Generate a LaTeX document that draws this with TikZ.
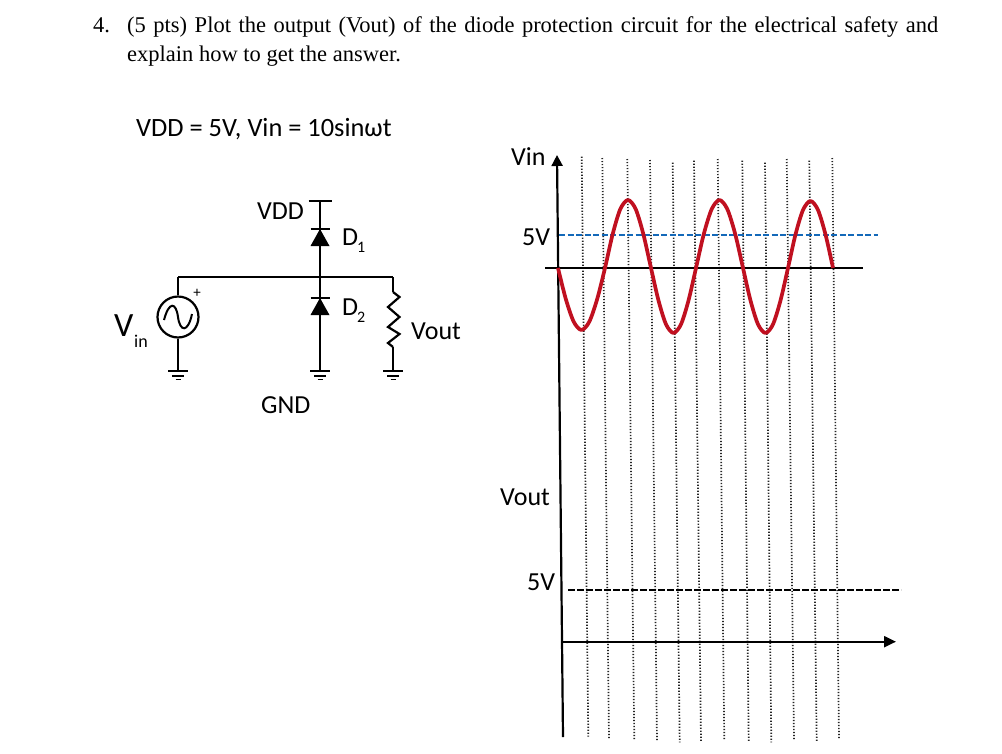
\documentclass[tikz,border=0pt]{standalone}
\usepackage{fontspec}
\setmainfont{Liberation Serif}
\newfontfamily\calfont{Carlito}
\usetikzlibrary{arrows.meta}
\tikzset{
 x=1pt,y=-1pt,
 lab/.style={inner sep=0pt,font=\calfont\fontsize{26}{26}\selectfont,anchor=base west},
 prob/.style={inner sep=0pt,font=\fontsize{22.5}{24}\selectfont,anchor=base west},
 wire/.style={line width=2.2pt,black},
 gridline/.style={line width=1.7pt,black!85,dash pattern=on 1.2pt off 1.8pt},
 axisline/.style={line width=2.2pt,black},
 blue5/.style={line width=2pt,color={rgb,255:red,20;green,105;blue,185},dash pattern=on 6pt off 2.5pt},
 black5/.style={line width=2.6pt,black,dash pattern=on 6.5pt off 2.5pt},
 sine/.style={line width=3.7pt,color={rgb,255:red,192;green,16;blue,32},line join=round},
}
\newcommand{\gnd}[1]{%
 \draw[wire] ([xshift=-10pt]#1) -- ([xshift=10pt]#1);
 \draw[line width=1.7pt] ([xshift=-6pt,yshift=-5pt]#1) -- ([xshift=6pt,yshift=-5pt]#1);
 \draw[line width=1.7pt] ([xshift=-2.5pt,yshift=-8.5pt]#1) -- ([xshift=2.5pt,yshift=-8.5pt]#1);
}
\newcommand{\diode}[1]{%
 \fill ([yshift=0pt]#1) -- ([xshift=-9.5pt,yshift=-17pt]#1) -- ([xshift=9.5pt,yshift=-17pt]#1) -- cycle;
 \draw[wire] ([xshift=-9.5pt]#1) -- ([xshift=9.5pt]#1);
}
\begin{document}
\begin{tikzpicture}
\useasboundingbox[fill=white] (0,0) rectangle (1002,753);
% problem text
\node[prob] (num) at (93,32) {4.};
\node[prob] (l1) at (127,32) {\makebox[811pt][s]{(5 pts) Plot the output (Vout) of the diode protection circuit for the electrical safety and}};
\node[prob] (l2) at (127,61) {explain how to get the answer.};
\node[lab,font=\calfont\fontsize{26.4}{26}\selectfont] (given) at (136,136) {VDD = 5V, Vin = 10sinωt};
% circuit points
\coordinate (vddR) at (320,201);
\coordinate (d1) at (320,229);
\coordinate (j) at (320,277);
\coordinate (jl) at (178,277);
\coordinate (jr) at (393,277);
\coordinate (d2) at (320,298);
\coordinate (g1) at (178,371);
\coordinate (g2) at (320,371);
\coordinate (g3) at (393,371);
\coordinate (rtop) at (393,292);
\coordinate (rbot) at (393,347);
\node[circle,draw,line width=2.2pt,minimum size=41pt,inner sep=0pt] (src) at (178,317) {};
\draw[wire] ([xshift=-11.5pt]vddR) -- ([xshift=11.5pt]vddR);
\draw[wire] (vddR) -- (j);
\draw[wire] (j) -- (g2);
\draw[wire] (jl) -- (jr);
\draw[wire] (jl) -- (src.north);
\draw[wire] (src.south) -- (g1);
\draw[wire] (jr) -- (rtop);
\draw[wire,line join=miter] (rtop) -- (399.5,297) -- (388,307) -- (399.5,317) -- (388,327) -- (399.5,334) -- (388,343) -- (rbot);
\draw[wire] (rbot) -- (g3);
\gnd{g1}\gnd{g2}\gnd{g3}
\diode{d1}\diode{d2}
\draw[line width=2pt] (164,320) .. controls (169,301) and (176,302) .. (178,317) .. controls (180,332) and (188,333) .. (192,314);
\node[inner sep=0pt,font=\calfont\fontsize{15}{15}\selectfont] (plus) at (197,293) {+};
\node[lab] (vv) at (114,336) {\fontsize{34}{34}\selectfont V};
\node[lab] (vi) at (134,347) {\fontsize{18}{18}\selectfont in};
\node[lab] (vddl) at (257,219) {VDD};
\node[lab] (dd1) at (342,245) {D};
\node[lab] (s1) at (357,252) {\fontsize{16}{16}\selectfont 1};
\node[lab] (dd2) at (342,315) {D};
\node[lab] (s2) at (357,322) {\fontsize{16}{16}\selectfont 2};
\node[lab] (vo) at (411,339) {Vout};
\node[lab] (gl) at (261,413) {GND};
% graph: dotted guide lines
\foreach \a/\b/\c/\d in {581.7/156.7/588.3/736.7,602.3/158/609/739,627.3/159/634.3/740,650/160/657/740.7,672.7/162.7/679.7/742.3,694/160.7/701/741.3,717.7/159/724.3/740.7,742.3/160.7/748.7/741.3,765/162.7/771.3/742.3,786.7/159/794/740,809.3/160.7/816.7/741.3,832.3/158/839/739}
 \draw[gridline] (\a,\b) -- (\c,\d);
\coordinate (ytop) at (557,155);
\coordinate (ybot) at (563,737);
\draw[axisline,-{Triangle[length=11pt,width=11pt]}] (ybot) -- (ytop);
\coordinate (x1a) at (545,268);
\coordinate (x1b) at (863,268);
\draw[axisline] (x1a) -- (x1b);
\coordinate (b1) at (559,235);
\coordinate (b2) at (878,235);
\draw[blue5] (b1) -- (b2);
\draw[sine] plot[smooth,tension=0.5] coordinates {(558,268) (565.8,299) (573.7,321.7) (581.5,330) (589.3,321.7) (597.2,299) (605,268) (612.7,234) (620.3,209.1) (628,200) (635.7,209.1) (643.3,234) (651,268) (658.5,300.5) (666,324.3) (673.5,333) (681,324.3) (688.5,300.5) (696,268) (703.8,234) (711.7,209.1) (719.5,200) (727.3,209.1) (735.2,234) (743,268) (750.5,300.5) (758,324.3) (765.5,333) (773,324.3) (780.5,300.5) (788,268) (795.5,234.5) (803,210) (810.5,201) (818,210) (825.5,234.5) (833,268)};
\coordinate (k1) at (568,590);
\coordinate (k2) at (901,590);
\draw[black5] (k1) -- (k2);
\coordinate (x2a) at (562,641.7);
\coordinate (x2b) at (896,641.7);
\draw[axisline,-{Triangle[length=12pt,width=11pt]}] (x2a) -- (x2b);
\node[lab] (lvin) at (511,165) {Vin};
\node[lab] (l5a) at (522,245) {5V};
\node[lab] (lvout) at (500,505) {Vout};
\node[lab] (l5b) at (527,590) {5V};
\end{tikzpicture}
\end{document}
